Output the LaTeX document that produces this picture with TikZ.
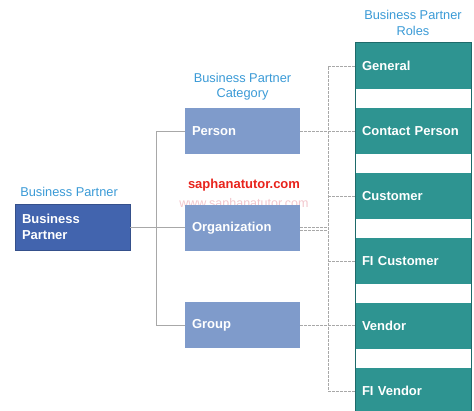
\documentclass[tikz,border=0pt]{standalone}
\usepackage{fontspec}
\setmainfont{Liberation Sans}
\usetikzlibrary{positioning}
\definecolor{bpblue}{HTML}{4264AE}
\definecolor{catblue}{HTML}{7F9BCB}
\definecolor{roleteal}{HTML}{2E9491}
\definecolor{frameteal}{HTML}{1E6A6A}
\definecolor{headblue}{HTML}{3A9AD6}
\definecolor{sitered}{HTML}{E8231C}
\definecolor{wmpink}{HTML}{F2C6CC}
\definecolor{linegray}{HTML}{A8A8A8}
\tikzset{x=1pt, y=-1pt,
    box/.style={rectangle, minimum height=46pt, inner sep=7pt,
        text=white, font=\fontsize{13}{16}\selectfont\bfseries, align=left},
    bpbox/.style={box, fill=bpblue, draw=bpblue!80!black, line width=0.4pt,
        minimum width=115pt, text width=101pt},
    catbox/.style={box, fill=catblue, minimum width=115pt, text width=101pt},
    rolebox/.style={box, fill=roleteal, minimum width=116pt, text width=102pt},
    header/.style={text=headblue, font=\fontsize{12.8}{15.5}\selectfont, align=center},
    tree/.style={draw=linegray, line width=0.8pt},
    rolelink/.style={draw=linegray, line width=0.7pt, dash pattern=on 2.5pt off 1.5pt},
    textnode/.style={}}
\begin{document}
\begin{tikzpicture}
\useasboundingbox (0,0) rectangle (474,411);
% watermark behind the category boxes
\node[text=wmpink, font=\fontsize{12.5}{14}\selectfont] (wm) at (244,204) {www.saphanatutor.com};
\node[bpbox]  (bp)     at (72.5,227)  {Business\\Partner};
\node[catbox] (person) at (242.5,131) {Person};
\node[catbox] (org)    at (242.5,228.5) {Organization};
\node[catbox] (grp)    at (242.5,325) {Group};
\node[header] (bplab)  [above=4pt of bp.north west, anchor=south west, xshift=2pt] {Business Partner};
\node[header] (catlab) [above=4pt of person] {Business Partner\\Category};
\node[text=sitered, font=\fontsize{13}{14}\selectfont\bfseries] (site) at (244,185) {saphanatutor.com};
% roles column
\foreach \name/\txt [count=\i] in {gen/General, cp/Contact Person, cus/Customer,
        fic/FI Customer, ven/Vendor, fiv/FI Vendor}
    \node[rolebox] (\name) at (413,{66+65*(\i-1)}) {\txt};
\draw[frameteal, line width=1pt] (355,43) rectangle (471,416);
\node[header] (rolelab) [above=4pt of gen] {Business Partner\\Roles};
% tree from business partner to categories
\draw[tree] (bp.east) -- (bp.east -| org.west);
\draw[tree] (person.west) -- ++(-28,0) |- (grp.west);
% links to the roles
\coordinate (bustop) at (328,66);
\coordinate (busbot) at (328,391);
\draw[rolelink] (person.east) -- (person.east -| cp.west);
\draw[rolelink] (grp.east) -- (grp.east -| ven.west);
\draw[rolelink] (gen.west) -- (bustop) -- (busbot) -- (fiv.west);
\draw[rolelink] (cus.west) -- (cus.west -| bustop);
\draw[rolelink] (fic.west) -- (fic.west -| bustop);
\draw[rolelink] ([yshift=1.5pt]org.east) -- ([yshift=1.5pt]org.east -| bustop);
\draw[rolelink] ([yshift=-2pt]org.east) -- ([yshift=-2pt]org.east -| bustop);
\end{tikzpicture}
\end{document}
